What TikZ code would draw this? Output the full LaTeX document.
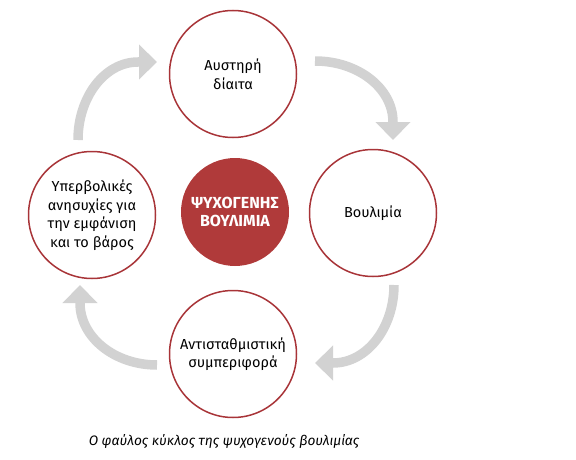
\documentclass[tikz,border=0pt]{standalone}
\usepackage{fontspec}
\setmainfont{Fira Sans}
\usepackage{tikz}
\usetikzlibrary{arrows.meta}
\definecolor{ringred}{HTML}{A83438}
\definecolor{corered}{HTML}{B03A3A}
\definecolor{loopgray}{HTML}{D2D2D2}
\tikzstyle{stage}=[circle, draw=ringred, line width=1.5pt, minimum size=127pt, inner sep=0pt, align=center, font=\fontsize{14.5}{18.5}\selectfont]
\tikzstyle{core}=[circle, fill=corered, minimum size=108pt, inner sep=0pt, align=center, text=white, font=\fontsize{16}{18.5}\selectfont\bfseries]
\tikzstyle{looparrow}=[draw=loopgray, line width=9.5pt, -{Triangle[width=34pt, length=18pt]}]

\begin{document}
\begin{tikzpicture}[x=1pt, y=1pt]
        \useasboundingbox (0, 0) rectangle (576, 459);
        \node[stage] (Diet) at (233, 385) {Αυστηρή\\δίαιτα};
        \node[stage] (Bul) at (373, 246) {Βουλιμία};
        \node[stage] (Comp) at (233, 105) {Αντισταθμιστική\\συμπεριφορά};
        \node[stage] (Worry) at (92, 244) {Υπερβολικές\\ανησυχίες για\\την εμφάνιση\\και το βάρος};
        \node[core] (Core) at (235, 247) {ΨΥΧΟΓΕΝΗΣ\\ΒΟΥΛΙΜΙΑ};
        \node[font=\fontsize{13.7}{15}\selectfont\itshape] (Cap) at (224, 18) {Ο φαύλος κύκλος της ψυχογενούς βουλιμίας};
        \coordinate (DB1) at (315, 398);
        \coordinate (DB2) at (393, 319);
        \coordinate (BC1) at (394, 174);
        \coordinate (BC2) at (315, 96);
        \coordinate (CW1) at (157, 94);
        \coordinate (CW2) at (80, 174);
        \coordinate (WD1) at (78, 319);
        \coordinate (WD2) at (157, 397);
        \draw[looparrow] (DB1) arc[start angle=90, end angle=0, x radius=78, y radius=61] -- (DB2);
        \draw[looparrow] (BC1) arc[start angle=0, end angle=-90, x radius=61, y radius=78] -- (BC2);
        \draw[looparrow] (CW1) arc[start angle=-90, end angle=-180, x radius=77, y radius=62] -- (CW2);
        \draw[looparrow] (WD1) arc[start angle=180, end angle=90, x radius=60, y radius=78] -- (WD2);
    \end{tikzpicture}
\end{document}
